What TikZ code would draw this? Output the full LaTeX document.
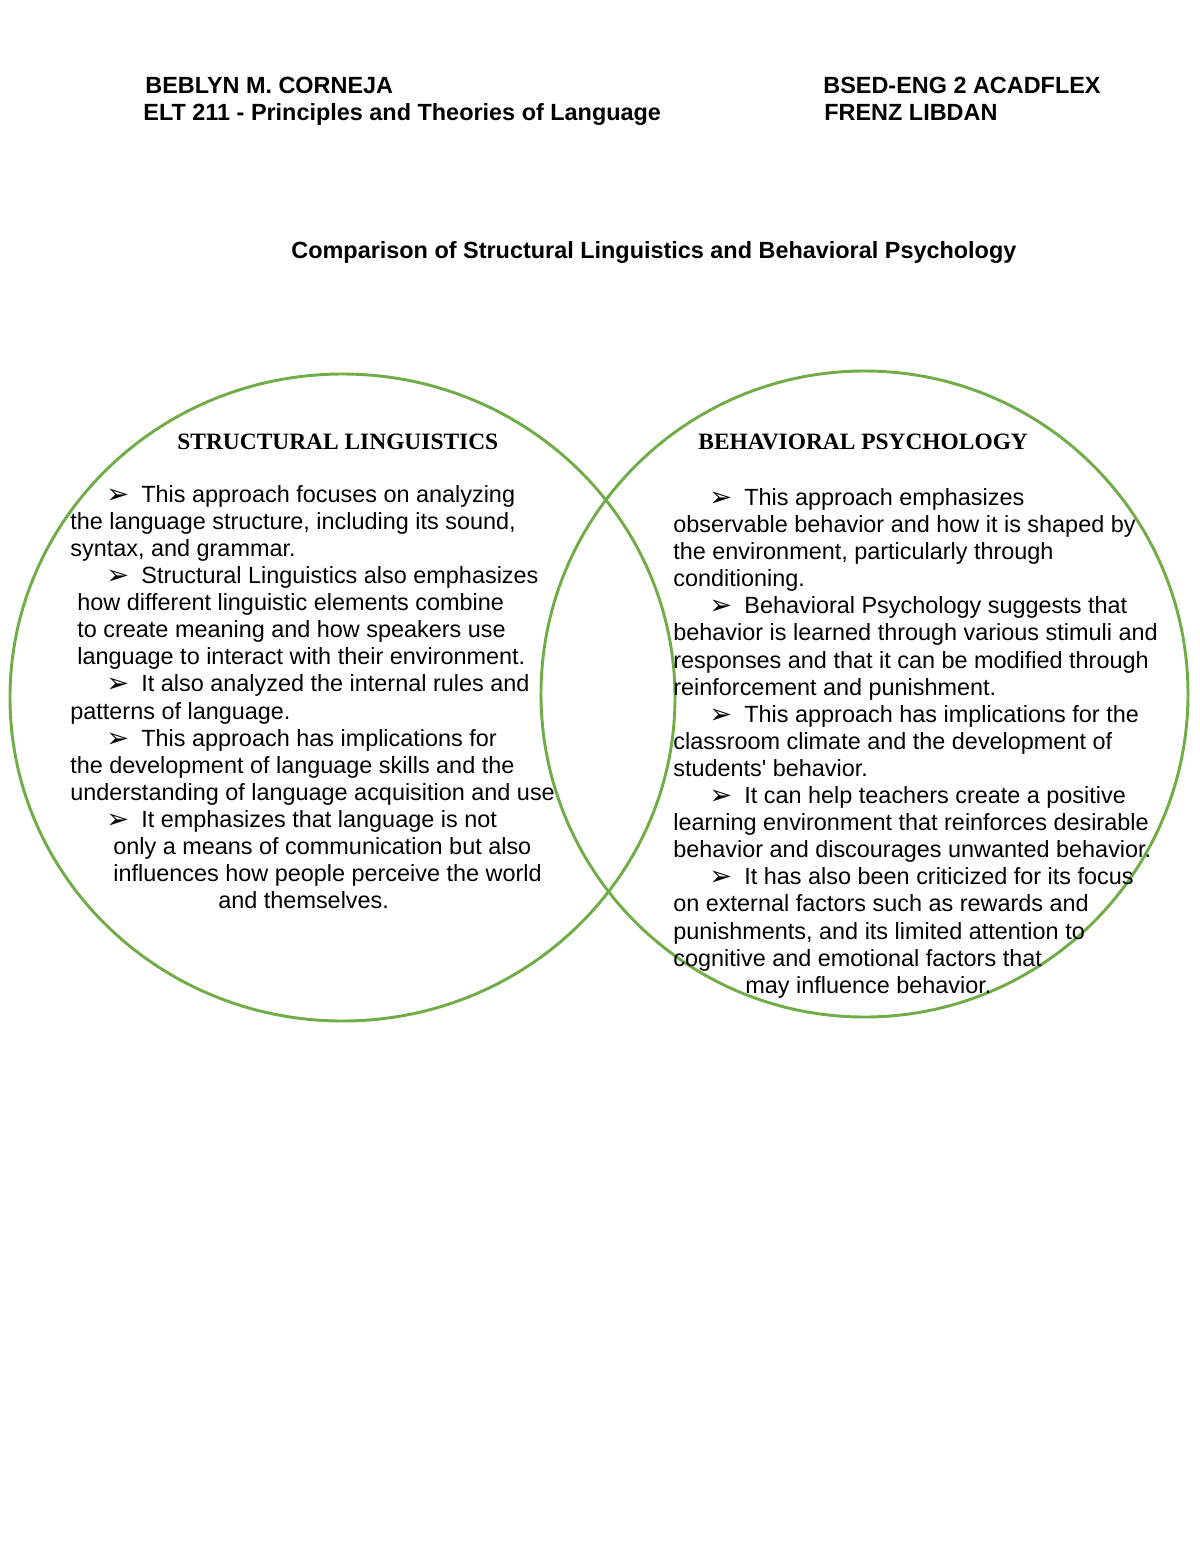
\documentclass[tikz,border=0pt]{standalone}
\usepackage{fontspec}
\setmainfont{Liberation Sans}
\newfontfamily\headfont{Liberation Serif}
\newfontfamily\symfont{DejaVu Sans}
\usetikzlibrary{positioning}
\definecolor{venngreen}{HTML}{70AD47}

\begin{document}
\begin{tikzpicture}[x=0.018cm,y=-0.018cm,
  txt/.style={anchor=base west,inner sep=0pt,font=\fontsize{12}{14}\selectfont},
  boldtxt/.style={txt,font=\fontsize{12}{14}\selectfont\bfseries},
  heading/.style={anchor=base west,inner sep=0pt,font=\headfont\fontsize{12}{14}\selectfont\bfseries},
  arrowbullet/.style={anchor=base west,inner sep=0pt,font=\symfont\fontsize{14}{16}\selectfont},
  ring/.style={draw=venngreen,line width=1.5pt}]
  \useasboundingbox (0,0) rectangle (1200,1553);

  % header
  \node[boldtxt] (name)   at (145,93)  {BEBLYN M. CORNEJA};
  \node[boldtxt] (course) at (143,120) {ELT 211 - Principles and Theories of Language};
  \node[boldtxt] (sect)   at (823,93)  {BSED-ENG 2 ACADFLEX};
  \node[boldtxt] (prof)   at (824,120) {FRENZ LIBDAN};
  \node[boldtxt] (title)  at (291,258) {Comparison of Structural Linguistics and Behavioral Psychology};

  % the two circles
  \draw[ring] (342.5,697.5) ellipse [x radius=332.5,y radius=323.5];
  \draw[ring] (864.5,694) ellipse [x radius=323.5,y radius=323];

  % left circle: structural linguistics
  \node[heading] (slhead) at (177,449) {STRUCTURAL LINGUISTICS};
  \node[arrowbullet] (slb1) at (106,503) {➢};
  \node[txt] (sl0)  at (141,502) {This approach focuses on analyzing};
  \node[txt] (sl1)  at (70,529)  {the language structure, including its sound,};
  \node[txt] (sl2)  at (70,556)  {syntax, and grammar.};
  \node[arrowbullet] (slb2) at (106,584) {➢};
  \node[txt] (sl3)  at (141,583) {Structural Linguistics also emphasizes};
  \node[txt] (sl4)  at (77,610)  {how different linguistic elements combine};
  \node[txt] (sl5)  at (77,637)  {to create meaning and how speakers use};
  \node[txt] (sl6)  at (77,664)  {language to interact with their environment.};
  \node[arrowbullet] (slb3) at (106,692) {➢};
  \node[txt] (sl7)  at (141,691) {It also analyzed the internal rules and};
  \node[txt] (sl8)  at (70,719)  {patterns of language.};
  \node[arrowbullet] (slb4) at (106,747) {➢};
  \node[txt] (sl9)  at (141,746) {This approach has implications for};
  \node[txt] (sl10) at (70,773)  {the development of language skills and the};
  \node[txt] (sl11) at (70,800)  {understanding of language acquisition and use};
  \node[arrowbullet] (slb5) at (106,828) {➢};
  \node[txt] (sl12) at (141,827) {It emphasizes that language is not};
  \node[txt] (sl13) at (113,854) {only a means of communication but also};
  \node[txt] (sl14) at (113,881) {influences how people perceive the world};
  \node[txt] (sl15) at (218,908) {and themselves.};

  % right circle: behavioral psychology
  \node[heading] (bphead) at (698,449) {BEHAVIORAL PSYCHOLOGY};
  \node[arrowbullet] (bpb1) at (709,506) {➢};
  \node[txt] (bp0)  at (744,505) {This approach emphasizes};
  \node[txt] (bp1)  at (673,532) {observable behavior and how it is shaped by};
  \node[txt] (bp2)  at (673,559) {the environment, particularly through};
  \node[txt] (bp3)  at (673,586) {conditioning.};
  \node[arrowbullet] (bpb2) at (709,614) {➢};
  \node[txt] (bp4)  at (744,613) {Behavioral Psychology suggests that};
  \node[txt] (bp5)  at (673,640) {behavior is learned through various stimuli and};
  \node[txt] (bp6)  at (673,668) {responses and that it can be modified through};
  \node[txt] (bp7)  at (673,695) {reinforcement and punishment.};
  \node[arrowbullet] (bpb3) at (709,723) {➢};
  \node[txt] (bp8)  at (744,722) {This approach has implications for the};
  \node[txt] (bp9)  at (673,749) {classroom climate and the development of};
  \node[txt] (bp10) at (673,776) {students\textquotesingle\ behavior.};
  \node[arrowbullet] (bpb4) at (709,804) {➢};
  \node[txt] (bp11) at (744,803) {It can help teachers create a positive};
  \node[txt] (bp12) at (673,830) {learning environment that reinforces desirable};
  \node[txt] (bp13) at (673,857) {behavior and discourages unwanted behavior.};
  \node[arrowbullet] (bpb5) at (709,885) {➢};
  \node[txt] (bp14) at (744,884) {It has also been criticized for its focus};
  \node[txt] (bp15) at (673,911) {on external factors such as rewards and};
  \node[txt] (bp16) at (673,939) {punishments, and its limited attention to};
  \node[txt] (bp17) at (673,966) {cognitive and emotional factors that};
  \node[txt] (bp18) at (745,993) {may influence behavior.};
\end{tikzpicture}
\end{document}
